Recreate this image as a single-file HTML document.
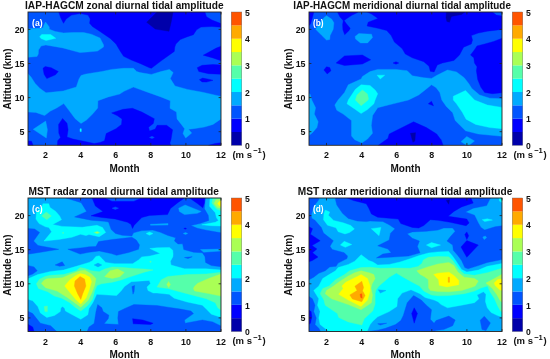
<!DOCTYPE html>
<html><head><meta charset="utf-8"><title>Diurnal tidal amplitude</title>
<style>html,body{margin:0;padding:0;background:#fff}svg{display:block}text{font-family:"Liberation Sans",Arial,sans-serif;font-weight:bold;fill:#111}</style></head><body>
<svg width="550" height="359" viewBox="0 0 550 359">
<rect width="550" height="359" fill="#fff"/>
<defs>
<clipPath id="cpa"><rect x="28" y="12" width="193" height="133.3"/></clipPath>
<clipPath id="cpb"><rect x="309" y="12" width="193" height="133.3"/></clipPath>
<clipPath id="cpc"><rect x="28" y="198" width="193" height="133.5"/></clipPath>
<clipPath id="cpd"><rect x="309" y="198" width="193" height="133.5"/></clipPath>
</defs>
<g clip-path="url(#cpa)">
<rect x="28" y="12" width="193" height="133.3" fill="#0055ff"/>
<polygon points="58.0,10.0 60.7,17.8 63.5,23.3 66.2,18.9 71.6,15.1 80.4,13.5 88.0,15.1 90.2,18.9 89.6,23.3 92.4,26.5 100.0,31.5 110.2,38.4 116.0,44.0 120.4,51.4 123.6,56.3 131.3,60.1 140.0,63.4 149.5,67.8 151.4,68.3 160.9,61.1 168.3,55.7 174.3,51.4 174.8,47.0 175.9,44.0 180.3,39.6 186.8,36.9 193.4,34.7 196.6,29.8 201.0,27.1 211.9,26.5 223.0,27.4 223.0,24.4 211.9,20.0 206.5,16.7 204.3,10.0" fill="#0000ff" stroke="#0000ff" stroke-width="0.4"/>
<polygon points="146.7,22.3 158.0,11.0 173.2,11.0 171.3,21.4 169.0,31.3 155.2,29.0" fill="#0000aa" stroke="#0000aa" stroke-width="0.4"/>
<polygon points="26.0,28.9 43.0,28.0 43.5,26.0 45.5,22.0 49.3,27.1 49.3,29.3 55.3,31.5 63.5,32.9 72.7,32.5 83.6,32.5 91.3,34.2 100.0,38.0 103.6,45.0 103.5,47.0 97.5,51.1 87.5,52.0 79.9,52.6 62.9,47.9 45.8,45.0 41.1,46.0 38.5,50.0 38.3,54.0 37.0,56.5 26.0,57.4" fill="#00aaff" stroke="#00aaff" stroke-width="0.4"/>
<polygon points="26.0,71.5 31.0,77.0 35.2,83.5 40.0,88.5 46.0,92.8 63.2,91.0 76.3,87.0 79.0,79.0 81.0,75.5 85.0,74.2 90.9,73.2 101.8,71.5 111.6,69.4 123.6,68.3 133.5,68.3 136.7,71.5 140.0,72.6 151.4,74.4 160.9,71.6 169.4,69.4 173.2,72.6 170.3,78.6 175.0,86.0 187.4,89.4 202.5,92.2 223.0,96.9 223.0,117.5 213.0,124.4 204.3,127.1 193.4,128.7 188.5,129.3 191.7,133.1 185.7,138.0 183.0,133.6 184.6,128.7 181.4,124.4 177.0,118.9 176.5,112.0 170.0,108.3 170.3,100.7 160.9,96.9 147.6,92.2 133.4,87.1 124.0,91.3 119.7,94.1 108.3,96.9 97.9,100.7 97.7,108.0 93.1,113.5 86.5,120.0 81.0,123.4 75.2,118.7 69.5,111.1 63.8,103.6 56.6,108.0 50.1,111.3 44.6,115.6 35.9,112.4 26.0,111.8" fill="#00aaff" stroke="#00aaff" stroke-width="0.4"/>
<polygon points="39.7,36.8 41.7,34.5 50.6,34.5 55.8,38.3 46.0,40.5 41.0,38.5" fill="#00ffff" stroke="#00ffff" stroke-width="0.4"/>
<polygon points="43.0,68.3 45.2,66.6 51.2,67.7 58.3,71.5 55.5,74.8 46.8,78.6 44.1,74.3" fill="#0000ff" stroke="#0000ff" stroke-width="0.4"/>
<polygon points="33.2,129.3 45.7,121.1 47.4,129.8 46.3,138.0" fill="#00aaff" stroke="#00aaff" stroke-width="0.4"/>
<polygon points="57.2,147.0 57.7,140.7 60.5,137.5 58.8,133.1 58.6,124.4 62.6,118.4 67.0,123.3 68.1,129.8 67.0,136.9 73.0,139.1 85.0,141.5 94.2,143.5 100.0,142.5 104.5,140.7 106.2,133.6 116.0,128.7 121.5,124.4 122.0,118.9 117.1,115.6 111.6,112.9 123.0,109.3 132.5,108.3 141.9,112.1 154.3,118.7 153.3,123.5 148.6,127.2 149.5,131.0 155.2,129.1 157.1,125.3 166.6,125.3 172.6,129.8 171.0,139.6 169.9,142.9 171.5,147.0" fill="#0000ff" stroke="#0000ff" stroke-width="0.4"/>
<polygon points="149.5,137.5 152.0,136.3 154.3,137.5 152.0,138.6" fill="#0055ff" stroke="#0055ff" stroke-width="0.4"/>
<polygon points="26.0,140.7 31.5,141.3 33.7,147.0 26.0,147.0" fill="#0000ff" stroke="#0000ff" stroke-width="0.4"/>
<polygon points="80.0,128.8 81.3,128.8 81.3,131.6 80.0,131.6" fill="#00ffff" stroke="#00ffff" stroke-width="0.4"/>
<polygon points="203.2,55.2 216.3,48.1 223.0,45.5 223.0,61.5 213.0,57.9" fill="#0000ff" stroke="#0000ff" stroke-width="0.4"/>
<polygon points="197.2,67.7 202.1,65.3 213.0,64.5 223.0,65.0 223.0,74.3 208.6,73.7 198.8,71.5" fill="#0000ff" stroke="#0000ff" stroke-width="0.4"/>
<polygon points="199.4,79.7 202.6,78.1 208.6,79.2 213.0,80.3 206.5,82.1 202.1,81.9" fill="#0000ff" stroke="#0000ff" stroke-width="0.4"/>
<polygon points="208.6,147.0 208.6,145.3 215.2,143.5 223.0,142.4 223.0,147.0" fill="#0000ff" stroke="#0000ff" stroke-width="0.4"/>
</g>
<rect x="28" y="12" width="193" height="133.3" fill="none" stroke="#222" stroke-width="0.9"/>
<text x="45.5" y="158.4" font-size="8.9" text-anchor="middle">2</text>
<text x="80.6" y="158.4" font-size="8.9" text-anchor="middle">4</text>
<text x="115.7" y="158.4" font-size="8.9" text-anchor="middle">6</text>
<text x="150.8" y="158.4" font-size="8.9" text-anchor="middle">8</text>
<text x="185.9" y="158.4" font-size="8.9" text-anchor="middle">10</text>
<text x="221.0" y="158.4" font-size="8.9" text-anchor="middle">12</text>
<text x="24.5" y="134.8" font-size="8.9" text-anchor="end">5</text>
<text x="24.5" y="100.7" font-size="8.9" text-anchor="end">10</text>
<text x="24.5" y="66.6" font-size="8.9" text-anchor="end">15</text>
<text x="24.5" y="32.5" font-size="8.9" text-anchor="end">20</text>
<path d="M45.5,145.3v-2.4 M45.5,12.0v2.4 M80.6,145.3v-2.4 M80.6,12.0v2.4 M115.7,145.3v-2.4 M115.7,12.0v2.4 M150.8,145.3v-2.4 M150.8,12.0v2.4 M185.9,145.3v-2.4 M185.9,12.0v2.4 M221.0,145.3v-2.4 M221.0,12.0v2.4 M28.0,131.7h2.4 M221.0,131.7h-2.4 M28.0,97.6h2.4 M221.0,97.6h-2.4 M28.0,63.5h2.4 M221.0,63.5h-2.4 M28.0,29.4h2.4 M221.0,29.4h-2.4" stroke="#222" stroke-width="0.8" fill="none"/>
<text x="25.0" y="9.2" font-size="10" textLength="198.6" lengthAdjust="spacingAndGlyphs">IAP-HAGCM zonal diurnal tidal amplitude</text>
<text x="124.5" y="171.6" font-size="10" text-anchor="middle">Month</text>
<text transform="translate(11.0,79.0) rotate(-90)" font-size="10" text-anchor="middle">Altitude (km)</text>
<text x="32.0" y="25.6" font-size="8.6" textLength="10.6" lengthAdjust="spacingAndGlyphs" style="fill:#fff">(a)</text>
<rect x="231.2" y="131.97" width="10.6" height="13.38" fill="#0000aa"/>
<rect x="231.2" y="118.64" width="10.6" height="13.38" fill="#0000ff"/>
<rect x="231.2" y="105.31" width="10.6" height="13.38" fill="#0055ff"/>
<rect x="231.2" y="91.98" width="10.6" height="13.38" fill="#00aaff"/>
<rect x="231.2" y="78.65" width="10.6" height="13.38" fill="#00ffff"/>
<rect x="231.2" y="65.32" width="10.6" height="13.38" fill="#55ffaa"/>
<rect x="231.2" y="51.99" width="10.6" height="13.38" fill="#aaff55"/>
<rect x="231.2" y="38.66" width="10.6" height="13.38" fill="#ffff00"/>
<rect x="231.2" y="25.33" width="10.6" height="13.38" fill="#ffaa00"/>
<rect x="231.2" y="12.00" width="10.6" height="13.38" fill="#ff5500"/>
<rect x="231.2" y="12.0" width="10.6" height="133.3" fill="none" stroke="#666" stroke-width="0.4"/>
<text x="245.1" y="149.0" font-size="8.6">0</text>
<text x="245.1" y="122.3" font-size="8.6">1</text>
<text x="245.1" y="95.7" font-size="8.6">2</text>
<text x="245.1" y="69.0" font-size="8.6">3</text>
<text x="245.1" y="42.4" font-size="8.6">4</text>
<text x="245.1" y="15.7" font-size="8.6">5</text>
<text x="232.4" y="157.8" font-size="9.5">(m s<tspan dx="1.2" dy="-4.4" font-size="7.6">−1</tspan><tspan dx="0.8" dy="4.4">)</tspan></text>
<g clip-path="url(#cpb)">
<rect x="309" y="12" width="193" height="133.3" fill="#0055ff"/>
<polygon points="307.0,10.0 314.3,10.0 312.4,17.7 310.5,24.1 307.0,27.3" fill="#0000ff" stroke="#0000ff" stroke-width="0.4"/>
<polygon points="336.5,10.0 339.8,16.7 343.6,21.0 346.9,18.5 351.8,15.3 357.5,12.6 359.0,10.0" fill="#0000ff" stroke="#0000ff" stroke-width="0.4"/>
<polygon points="343.3,20.6 344.5,21.0 346.4,23.8 350.2,28.2 349.1,30.4 344.7,34.7 342.9,29.8 342.6,24.4" fill="#0000ff" stroke="#0000ff" stroke-width="0.4"/>
<polygon points="362.7,10.0 371.5,14.0 378.0,18.4 368.2,22.2 367.1,26.0 378.0,28.3 386.7,30.5 391.2,35.6 394.4,42.1 402.1,48.5 405.3,54.0 412.3,57.8 423.8,61.7 429.0,66.2 430.3,71.3 434.1,71.9 437.3,64.9 442.4,63.0 453.9,60.4 459.5,55.0 463.6,47.2 471.3,44.0 472.5,40.1 471.3,35.6 478.3,33.1 487.3,31.2 504.0,29.2 504.0,16.4 496.3,15.1 489.8,10.0" fill="#0000ff" stroke="#0000ff" stroke-width="0.4"/>
<polygon points="504.0,37.6 493.7,41.4 484.7,44.0 477.0,45.9 474.5,49.7 470.5,55.0 473.8,57.8 474.5,63.0 477.0,66.8 476.4,70.7 477.7,79.6 480.9,87.3 484.7,92.5 492.4,93.7 504.0,92.5" fill="#0000ff" stroke="#0000ff" stroke-width="0.4"/>
<polygon points="446.3,13.2 446.3,11.0 466.1,11.0 461.6,14.5 451.4,16.4 449.5,22.2 446.9,21.5 446.0,17.7" fill="#0000aa" stroke="#0000aa" stroke-width="0.4"/>
<polygon points="336.1,63.0 344.5,55.9 362.4,55.0 370.7,59.8 362.4,64.0 344.5,65.5" fill="#0000ff" stroke="#0000ff" stroke-width="0.4"/>
<polygon points="323.9,70.0 326.5,66.8 329.7,67.5 331.0,70.7 327.2,73.9" fill="#0000ff" stroke="#0000ff" stroke-width="0.4"/>
<polygon points="393.0,63.0 396.0,61.7 398.8,63.0 396.0,64.2" fill="#0000ff" stroke="#0000ff" stroke-width="0.4"/>
<polygon points="378.3,147.0 378.3,145.3 387.9,138.5 389.2,134.0 413.6,121.8 426.4,127.6 436.7,134.0 440.0,138.5 441.1,139.7 443.7,147.0" fill="#0000ff" stroke="#0000ff" stroke-width="0.4"/>
<polygon points="410.4,133.3 415.5,132.7 414.9,141.0 412.9,142.3" fill="#0000aa" stroke="#0000aa" stroke-width="0.4"/>
<polygon points="428.3,103.8 431.5,101.3 433.5,105.8" fill="#0000ff" stroke="#0000ff" stroke-width="0.4"/>
<polygon points="326.5,15.8 331.6,19.0 333.9,22.8 333.2,29.2 330.1,35.6 329.7,39.5 326.5,40.1 321.4,35.0 315.6,29.2 318.8,24.1 323.9,17.7" fill="#00aaff" stroke="#00aaff" stroke-width="0.4"/>
<polygon points="355.1,36.4 358.9,33.6 371.5,34.2 372.5,37.5 367.6,42.9 360.5,42.9 355.6,39.1" fill="#00aaff" stroke="#00aaff" stroke-width="0.4"/>
<polygon points="307.0,93.0 310.0,94.0 311.8,100.0 315.6,107.7 314.3,114.1 318.2,121.8 316.9,127.6 312.4,132.7 307.0,137.2" fill="#00aaff" stroke="#00aaff" stroke-width="0.4"/>
<polygon points="338.1,100.0 344.5,92.5 348.3,84.8 361.1,79.0 362.4,76.4 370.1,71.6 377.7,69.4 395.6,69.4 407.2,70.7 412.3,75.8 423.8,77.7 431.5,78.4 437.0,75.2 447.5,70.0 456.5,71.9 464.2,77.7 468.7,83.5 471.9,88.6 479.6,95.0 489.8,98.2 504.0,98.9 504.0,136.5 478.3,134.0 465.5,130.8 455.2,120.5 452.7,112.8 446.3,106.4 441.8,100.0 439.8,92.5 436.0,87.5 431.5,84.8 425.1,89.9 418.7,95.0 408.5,100.0 393.1,103.8 377.7,107.7 372.6,115.4 371.3,125.6 372.5,133.3 367.5,139.1 361.8,142.9 354.7,139.7 351.5,135.9 351.5,120.5 343.2,114.1 336.8,110.3 334.8,105.1" fill="#00aaff" stroke="#00aaff" stroke-width="0.4"/>
<polygon points="461.0,141.7 466.8,136.5 474.5,141.0 468.1,146.0" fill="#00aaff" stroke="#00aaff" stroke-width="0.4"/>
<polygon points="361.1,84.8 370.0,85.5 375.1,89.9 377.7,93.7 375.1,100.0 373.9,103.8 367.5,109.6 361.1,113.5 354.7,109.0 347.0,103.8 348.3,100.0 355.4,89.3" fill="#00ffff" stroke="#00ffff" stroke-width="0.4"/>
<polygon points="362.4,89.9 367.5,94.0 368.5,99.0 367.5,100.5 361.1,105.8 355.4,100.0 357.0,95.0" fill="#55ffaa" stroke="#55ffaa" stroke-width="0.4"/>
<polygon points="377.1,75.2 384.7,75.2 380.3,79.0" fill="#00ffff" stroke="#00ffff" stroke-width="0.4"/>
<polygon points="453.3,96.3 465.5,90.5 474.5,100.0 487.3,105.1 504.0,107.7 504.0,128.8 489.8,127.6 475.7,124.4 466.1,119.2 462.3,112.2 456.5,103.8 453.3,100.0" fill="#00ffff" stroke="#00ffff" stroke-width="0.4"/>
</g>
<rect x="309" y="12" width="193" height="133.3" fill="none" stroke="#222" stroke-width="0.9"/>
<text x="326.5" y="158.4" font-size="8.9" text-anchor="middle">2</text>
<text x="361.6" y="158.4" font-size="8.9" text-anchor="middle">4</text>
<text x="396.7" y="158.4" font-size="8.9" text-anchor="middle">6</text>
<text x="431.8" y="158.4" font-size="8.9" text-anchor="middle">8</text>
<text x="466.9" y="158.4" font-size="8.9" text-anchor="middle">10</text>
<text x="502.0" y="158.4" font-size="8.9" text-anchor="middle">12</text>
<text x="305.5" y="134.8" font-size="8.9" text-anchor="end">5</text>
<text x="305.5" y="100.7" font-size="8.9" text-anchor="end">10</text>
<text x="305.5" y="66.6" font-size="8.9" text-anchor="end">15</text>
<text x="305.5" y="32.5" font-size="8.9" text-anchor="end">20</text>
<path d="M326.5,145.3v-2.4 M326.5,12.0v2.4 M361.6,145.3v-2.4 M361.6,12.0v2.4 M396.7,145.3v-2.4 M396.7,12.0v2.4 M431.8,145.3v-2.4 M431.8,12.0v2.4 M466.9,145.3v-2.4 M466.9,12.0v2.4 M502.0,145.3v-2.4 M502.0,12.0v2.4 M309.0,131.7h2.4 M502.0,131.7h-2.4 M309.0,97.6h2.4 M502.0,97.6h-2.4 M309.0,63.5h2.4 M502.0,63.5h-2.4 M309.0,29.4h2.4 M502.0,29.4h-2.4" stroke="#222" stroke-width="0.8" fill="none"/>
<text x="293.2" y="9.2" font-size="10" textLength="217.7" lengthAdjust="spacingAndGlyphs">IAP-HAGCM meridional diurnal tidal amplitude</text>
<text x="405.5" y="171.6" font-size="10" text-anchor="middle">Month</text>
<text transform="translate(292.0,79.0) rotate(-90)" font-size="10" text-anchor="middle">Altitude (km)</text>
<text x="313.0" y="25.6" font-size="8.6" textLength="10.6" lengthAdjust="spacingAndGlyphs" style="fill:#fff">(b)</text>
<rect x="512.2" y="131.97" width="10.6" height="13.38" fill="#0000aa"/>
<rect x="512.2" y="118.64" width="10.6" height="13.38" fill="#0000ff"/>
<rect x="512.2" y="105.31" width="10.6" height="13.38" fill="#0055ff"/>
<rect x="512.2" y="91.98" width="10.6" height="13.38" fill="#00aaff"/>
<rect x="512.2" y="78.65" width="10.6" height="13.38" fill="#00ffff"/>
<rect x="512.2" y="65.32" width="10.6" height="13.38" fill="#55ffaa"/>
<rect x="512.2" y="51.99" width="10.6" height="13.38" fill="#aaff55"/>
<rect x="512.2" y="38.66" width="10.6" height="13.38" fill="#ffff00"/>
<rect x="512.2" y="25.33" width="10.6" height="13.38" fill="#ffaa00"/>
<rect x="512.2" y="12.00" width="10.6" height="13.38" fill="#ff5500"/>
<rect x="512.2" y="12.0" width="10.6" height="133.3" fill="none" stroke="#666" stroke-width="0.4"/>
<text x="526.1" y="149.0" font-size="8.6">0</text>
<text x="526.1" y="122.3" font-size="8.6">1</text>
<text x="526.1" y="95.7" font-size="8.6">2</text>
<text x="526.1" y="69.0" font-size="8.6">3</text>
<text x="526.1" y="42.4" font-size="8.6">4</text>
<text x="526.1" y="15.7" font-size="8.6">5</text>
<text x="513.4" y="157.8" font-size="9.5">(m s<tspan dx="1.2" dy="-4.4" font-size="7.6">−1</tspan><tspan dx="0.8" dy="4.4">)</tspan></text>
<g clip-path="url(#cpc)">
<rect x="28" y="198" width="193" height="133.5" fill="#00aaff"/>
<polygon points="65.9,196.0 65.9,198.0 81.2,202.7 86.6,211.5 74.6,216.9 91.0,220.2 104.1,221.3 108.5,222.0 111.2,229.6 115.5,233.5 122.1,235.3 131.9,236.0 133.5,232.8 141.8,230.6 152.7,230.1 160.4,232.3 168.0,235.5 175.6,237.7 174.5,241.0 178.0,244.0 182.6,243.8 183.8,249.6 193.5,252.2 202.4,252.8 205.0,256.7 205.6,262.4 211.4,265.6 223.0,266.9 223.0,233.2 206.3,230.2 197.3,228.2 190.9,225.5 199.9,223.6 208.8,220.4 208.2,215.2 204.4,208.8 205.6,196.0" fill="#0055ff" stroke="#0055ff" stroke-width="0.4"/>
<polygon points="67.9,249.2 82.7,247.7 89.0,246.8 95.9,246.5 98.6,241.6 112.3,239.5 131.9,237.3 136.3,240.0 139.5,244.9 138.5,249.3 128.6,252.5 116.6,255.3 111.2,253.6 99.2,250.9 89.0,252.3 80.1,254.1" fill="#0055ff" stroke="#0055ff" stroke-width="0.4"/>
<polygon points="26.0,228.5 34.6,229.0 39.6,232.4 33.6,241.1 38.0,245.5 58.7,249.3 39.1,252.5 26.0,254.5" fill="#0055ff" stroke="#0055ff" stroke-width="0.4"/>
<polygon points="55.1,265.0 62.2,261.8 64.7,265.6 59.6,266.3" fill="#0055ff" stroke="#0055ff" stroke-width="0.4"/>
<polygon points="26.0,265.0 34.0,266.9 37.2,270.8 32.7,274.0 26.0,276.5" fill="#0055ff" stroke="#0055ff" stroke-width="0.4"/>
<polygon points="26.0,310.4 32.7,313.6 37.2,319.3 40.4,323.2 50.6,325.7 58.3,333.0 26.0,333.0" fill="#0055ff" stroke="#0055ff" stroke-width="0.4"/>
<polygon points="86.5,333.0 89.0,327.0 94.1,323.5 94.8,319.3 96.0,311.6 97.7,304.6 101.8,307.8 103.1,311.6 108.9,315.2 108.2,318.7 104.1,323.8 118.5,324.5 117.8,318.0 118.5,311.6 124.9,308.4 133.9,304.6 157.0,305.5 167.8,307.2 180.6,309.1 190.9,311.0 193.5,313.6 184.5,320.0 185.1,323.2 202.4,320.0 212.7,321.9 223.0,327.0 223.0,333.0" fill="#0055ff" stroke="#0055ff" stroke-width="0.4"/>
<polygon points="131.9,286.5 134.6,285.5 134.1,291.5 133.0,294.2" fill="#0055ff" stroke="#0055ff" stroke-width="0.4"/>
<polygon points="184.5,257.5 192.2,256.7 188.0,258.6" fill="#0055ff" stroke="#0055ff" stroke-width="0.4"/>
<polygon points="92.1,196.0 92.1,198.0 95.4,206.0 103.0,211.5 91.0,215.8 101.9,217.5 115.0,218.9 127.5,222.3 130.9,224.3 132.5,228.5 134.2,225.2 141.8,217.5 149.5,215.4 167.5,214.6 170.5,208.5 178.1,202.4 183.8,198.6 184.5,196.0" fill="#0000ff" stroke="#0000ff" stroke-width="0.4"/>
<polygon points="189.5,196.0 189.5,198.0 197.4,203.5 202.8,207.8 204.4,203.0 204.8,196.0" fill="#0000ff" stroke="#0000ff" stroke-width="0.4"/>
<polygon points="105.7,196.0 140.3,196.0 140.3,198.0 133.9,201.1 112.1,201.1 105.7,198.0" fill="#0055ff" stroke="#0055ff" stroke-width="0.4"/>
<polygon points="112.1,208.2 115.3,206.9 118.5,208.2 115.3,209.5" fill="#0055ff" stroke="#0055ff" stroke-width="0.4"/>
<polygon points="132.6,318.7 142.8,320.0 153.1,323.2 150.5,324.5 133.2,323.8" fill="#0000ff" stroke="#0000ff" stroke-width="0.4"/>
<polygon points="26.0,323.2 32.7,327.0 34.6,333.0 26.0,333.0" fill="#0000ff" stroke="#0000ff" stroke-width="0.4"/>
<polygon points="183.8,228.5 185.2,228.0 186.5,228.6 185.2,229.2" fill="#0000ff" stroke="#0000ff" stroke-width="0.4"/>
<polygon points="178.7,208.2 185.1,205.0 201.2,211.4 197.3,213.3 184.5,214.6 179.4,211.4" fill="#00aaff" stroke="#00aaff" stroke-width="0.4"/>
<polygon points="150.5,224.3 168.0,223.5 168.0,225.0 150.5,225.2" fill="#00aaff" stroke="#00aaff" stroke-width="0.4"/>
<polygon points="183.2,233.5 185.5,232.5 187.7,233.5 185.5,234.5" fill="#00aaff" stroke="#00aaff" stroke-width="0.4"/>
<polygon points="200.5,249.6 223.0,249.0 223.0,250.9 203.7,252.2" fill="#00aaff" stroke="#00aaff" stroke-width="0.4"/>
<polygon points="42.9,203.7 48.7,203.7 50.0,207.5 55.8,211.4 59.6,215.9 61.5,219.7 52.6,224.5 62.0,226.4 75.1,226.9 82.3,227.3 97.0,225.3 102.5,227.5 105.7,232.4 99.2,236.7 89.0,234.5 86.0,235.6 80.5,234.2 71.8,237.3 58.7,239.5 44.0,241.1 51.6,231.8 48.9,227.5 45.5,226.8 39.1,223.6 35.9,219.1 36.5,211.4 41.7,207.5" fill="#00ffff" stroke="#00ffff" stroke-width="0.4"/>
<polygon points="26.0,279.7 37.8,274.6 50.6,271.4 63.5,270.1 76.3,266.3 89.1,262.4 92.6,260.5 95.9,256.4 99.2,255.8 102.0,258.6 105.7,262.4 114.6,263.7 132.6,263.7 138.5,260.0 141.7,256.9 150.0,256.0 160.2,253.5 149.8,248.5 157.0,247.8 169.5,247.4 172.7,250.2 173.1,254.0 172.9,256.7 170.4,261.2 171.0,265.0 184.5,268.8 206.3,268.8 223.0,270.1 223.0,318.0 211.4,314.2 206.3,309.1 202.4,305.2 187.1,302.0 174.2,298.2 169.1,294.3 157.0,293.0 153.1,293.0 148.0,290.5 147.0,287.0 150.5,283.6 149.3,280.4 131.3,281.7 124.5,286.5 121.0,291.1 116.6,295.6 96.7,294.3 92.8,302.7 89.0,308.4 87.8,314.8 80.8,319.3 73.7,315.5 65.4,311.0 64.7,308.4 62.8,306.5 60.9,307.8 60.3,311.6 54.5,315.5 46.8,317.4 40.4,312.9 37.8,306.5 32.7,300.7 26.0,298.8" fill="#00ffff" stroke="#00ffff" stroke-width="0.4"/>
<polygon points="94.1,265.0 98.0,263.1 101.8,265.0 98.0,266.9" fill="#00aaff" stroke="#00aaff" stroke-width="0.4"/>
<polygon points="210.1,196.0 209.5,206.3 215.3,212.7 216.5,217.8 218.5,220.5 215.3,222.3 201.8,224.8 211.4,225.7 223.0,226.1 223.0,196.0" fill="#00ffff" stroke="#00ffff" stroke-width="0.4"/>
<polygon points="146.1,233.5 149.5,232.0 153.0,233.5 149.5,235.2" fill="#00ffff" stroke="#00ffff" stroke-width="0.4"/>
<polygon points="41.7,215.9 46.2,212.0 51.3,215.9 46.8,219.7" fill="#55ffaa" stroke="#55ffaa" stroke-width="0.4"/>
<polygon points="93.7,232.4 97.5,231.3 100.3,232.7 97.0,233.8" fill="#55ffaa" stroke="#55ffaa" stroke-width="0.4"/>
<polygon points="95.5,232.5 97.3,232.0 98.6,232.7 97.0,233.2" fill="#aaff55" stroke="#aaff55" stroke-width="0.4"/>
<polygon points="62.3,232.9 63.1,232.2 63.9,232.9 63.1,233.6" fill="#55ffaa" stroke="#55ffaa" stroke-width="0.4"/>
<polygon points="36.4,283.8 39.5,279.2 45.6,276.3 50.6,275.3 63.5,274.6 76.3,270.8 80.1,267.6 85.0,268.5 91.5,270.7 99.2,271.8 104.6,269.1 112.3,266.9 123.2,267.5 134.1,268.5 145.0,269.1 153.1,269.9 145.0,272.0 140.3,273.5 128.6,277.3 121.0,280.0 112.3,282.2 101.4,283.8 97.0,285.5 94.8,290.4 92.6,299.0 89.0,303.9 86.5,306.5 80.8,311.0 75.1,307.3 69.6,302.6 62.0,298.3 54.4,296.0 47.8,291.8 38.5,288.5" fill="#55ffaa" stroke="#55ffaa" stroke-width="0.4"/>
<polygon points="157.0,287.0 158.8,284.0 161.4,279.7 167.8,276.5 187.1,274.6 206.3,274.0 223.0,272.0 223.0,311.6 217.8,307.8 215.3,302.7 206.3,298.8 187.1,293.7 167.8,288.6" fill="#55ffaa" stroke="#55ffaa" stroke-width="0.4"/>
<polygon points="211.8,203.0 213.0,198.3 223.0,197.6 223.0,211.4 216.5,209.0" fill="#55ffaa" stroke="#55ffaa" stroke-width="0.4"/>
<polygon points="44.2,306.5 47.4,305.9 47.4,311.6 44.9,311.6" fill="#55ffaa" stroke="#55ffaa" stroke-width="0.4"/>
<polygon points="149.6,261.8 150.5,261.0 151.4,261.8 150.5,262.6" fill="#55ffaa" stroke="#55ffaa" stroke-width="0.4"/>
<polygon points="166.8,284.5 168.6,281.5 170.4,284.5 168.6,287.5" fill="#aaff55" stroke="#aaff55" stroke-width="0.4"/>
<polygon points="41.3,283.4 44.0,280.3 46.8,278.8 62.2,277.8 69.9,274.6 80.1,270.8 85.0,270.2 91.5,274.0 95.9,278.4 94.8,284.9 91.5,293.6 88.3,300.0 86.5,302.0 80.8,307.2 76.3,303.9 67.3,297.5 57.1,291.1 45.6,287.7" fill="#aaff55" stroke="#aaff55" stroke-width="0.4"/>
<polygon points="104.6,276.7 110.1,270.7 117.7,269.1 124.3,272.4 119.9,276.7 112.3,278.4" fill="#aaff55" stroke="#aaff55" stroke-width="0.4"/>
<polygon points="193.4,288.5 194.3,286.5 197.7,283.3 208.6,278.4 219.5,274.5 223.0,273.8 223.0,296.5 208.6,293.6 194.5,290.9" fill="#aaff55" stroke="#aaff55" stroke-width="0.4"/>
<polygon points="214.0,203.5 216.0,199.8 223.0,199.2 223.0,208.5 217.5,207.5" fill="#aaff55" stroke="#aaff55" stroke-width="0.4"/>
<polygon points="64.7,286.0 69.9,279.7 76.3,275.3 80.1,273.6 85.0,274.5 89.9,277.3 91.5,281.6 89.4,289.3 86.1,298.0 85.3,298.8 80.8,303.9 76.3,300.1 69.9,292.4" fill="#ffff00" stroke="#ffff00" stroke-width="0.4"/>
<polygon points="217.6,203.6 219.5,201.3 223.0,200.8 223.0,206.4 219.5,206.0" fill="#ffff00" stroke="#ffff00" stroke-width="0.4"/>
<polygon points="74.4,286.0 75.0,281.0 80.1,276.5 84.6,279.1 85.9,286.0 82.7,293.7 80.8,299.5 77.6,293.7" fill="#ffaa00" stroke="#ffaa00" stroke-width="0.4"/>
</g>
<rect x="28" y="198" width="193" height="133.5" fill="none" stroke="#222" stroke-width="0.9"/>
<text x="45.5" y="344.6" font-size="8.9" text-anchor="middle">2</text>
<text x="80.6" y="344.6" font-size="8.9" text-anchor="middle">4</text>
<text x="115.7" y="344.6" font-size="8.9" text-anchor="middle">6</text>
<text x="150.8" y="344.6" font-size="8.9" text-anchor="middle">8</text>
<text x="185.9" y="344.6" font-size="8.9" text-anchor="middle">10</text>
<text x="221.0" y="344.6" font-size="8.9" text-anchor="middle">12</text>
<text x="24.5" y="321.0" font-size="8.9" text-anchor="end">5</text>
<text x="24.5" y="286.9" font-size="8.9" text-anchor="end">10</text>
<text x="24.5" y="252.8" font-size="8.9" text-anchor="end">15</text>
<text x="24.5" y="218.7" font-size="8.9" text-anchor="end">20</text>
<path d="M45.5,331.5v-2.4 M45.5,198.0v2.4 M80.6,331.5v-2.4 M80.6,198.0v2.4 M115.7,331.5v-2.4 M115.7,198.0v2.4 M150.8,331.5v-2.4 M150.8,198.0v2.4 M185.9,331.5v-2.4 M185.9,198.0v2.4 M221.0,331.5v-2.4 M221.0,198.0v2.4 M28.0,317.9h2.4 M221.0,317.9h-2.4 M28.0,283.8h2.4 M221.0,283.8h-2.4 M28.0,249.7h2.4 M221.0,249.7h-2.4 M28.0,215.6h2.4 M221.0,215.6h-2.4" stroke="#222" stroke-width="0.8" fill="none"/>
<text x="28.6" y="195.2" font-size="10" textLength="190.4" lengthAdjust="spacingAndGlyphs">MST radar zonal diurnal tidal amplitude</text>
<text x="124.5" y="357.8" font-size="10" text-anchor="middle">Month</text>
<text transform="translate(11.0,265.1) rotate(-90)" font-size="10" text-anchor="middle">Altitude (km)</text>
<text x="32.0" y="211.6" font-size="8.6" textLength="10.6" lengthAdjust="spacingAndGlyphs" style="fill:#fff">(c)</text>
<rect x="231.2" y="318.15" width="10.6" height="13.40" fill="#0000aa"/>
<rect x="231.2" y="304.80" width="10.6" height="13.40" fill="#0000ff"/>
<rect x="231.2" y="291.45" width="10.6" height="13.40" fill="#0055ff"/>
<rect x="231.2" y="278.10" width="10.6" height="13.40" fill="#00aaff"/>
<rect x="231.2" y="264.75" width="10.6" height="13.40" fill="#00ffff"/>
<rect x="231.2" y="251.40" width="10.6" height="13.40" fill="#55ffaa"/>
<rect x="231.2" y="238.05" width="10.6" height="13.40" fill="#aaff55"/>
<rect x="231.2" y="224.70" width="10.6" height="13.40" fill="#ffff00"/>
<rect x="231.2" y="211.35" width="10.6" height="13.40" fill="#ffaa00"/>
<rect x="231.2" y="198.00" width="10.6" height="13.40" fill="#ff5500"/>
<rect x="231.2" y="198.0" width="10.6" height="133.5" fill="none" stroke="#666" stroke-width="0.4"/>
<text x="245.1" y="335.2" font-size="8.6">0</text>
<text x="245.1" y="308.5" font-size="8.6">1</text>
<text x="245.1" y="281.8" font-size="8.6">2</text>
<text x="245.1" y="255.1" font-size="8.6">3</text>
<text x="245.1" y="228.4" font-size="8.6">4</text>
<text x="245.1" y="201.7" font-size="8.6">5</text>
<text x="232.4" y="344.0" font-size="9.5">(m s<tspan dx="1.2" dy="-4.4" font-size="7.6">−1</tspan><tspan dx="0.8" dy="4.4">)</tspan></text>
<g clip-path="url(#cpd)">
<rect x="309" y="198" width="193" height="133.5" fill="#00aaff"/>
<polygon points="307.0,196.0 318.8,196.0 318.8,199.8 313.7,206.3 311.1,215.2 311.8,218.4 314.7,220.0 321.3,227.6 323.5,233.1 333.3,240.7 330.0,246.2 332.2,249.5 344.2,252.7 347.5,256.0 347.0,258.6 338.1,263.1 336.1,266.3 329.7,266.9 325.2,270.8 318.8,273.3 313.7,277.2 307.0,281.0" fill="#0055ff" stroke="#0055ff" stroke-width="0.4"/>
<polygon points="335.5,196.0 335.5,199.8 336.8,205.0 342.5,213.3 348.3,218.4 357.3,221.0 366.3,221.6 370.0,221.0 382.8,221.6 389.2,224.8 395.0,228.7 390.5,233.2 389.2,240.0 377.7,245.8 387.9,249.0 391.2,252.8 382.8,254.1 376.4,257.9 389.2,257.3 408.5,256.0 420.0,252.8 417.4,246.4 419.4,241.0 412.3,238.3 407.2,233.8 412.3,231.9 426.4,231.3 438.0,230.0 443.7,228.0 452.7,228.0 455.2,231.3 450.1,237.0 447.0,241.0 452.7,245.1 453.3,250.3 457.8,255.4 461.6,260.5 464.8,267.6 468.1,268.8 478.3,265.6 487.3,262.4 504.0,259.2 504.0,225.5 495.0,226.8 484.7,230.0 480.9,227.4 478.3,222.9 474.5,215.2 465.5,212.0 473.2,208.2 486.6,205.6 489.8,199.2 492.4,196.0" fill="#0055ff" stroke="#0055ff" stroke-width="0.4"/>
<polygon points="307.0,295.0 312.4,298.8 315.0,305.2 313.7,311.6 316.3,318.0 315.0,324.5 318.8,328.3 321.4,333.0 307.0,333.0" fill="#0055ff" stroke="#0055ff" stroke-width="0.4"/>
<polygon points="370.0,333.0 370.0,331.3 377.7,330.2 385.4,328.3 395.6,324.5 400.8,320.6 403.3,315.5 407.2,302.7 413.6,295.6 421.3,300.1 426.4,305.2 431.5,309.7 430.3,319.3 434.1,323.2 436.0,320.6 448.8,316.1 455.2,320.0 452.7,325.7 443.7,329.6 436.0,330.5 432.0,333.0" fill="#0055ff" stroke="#0055ff" stroke-width="0.4"/>
<polygon points="377.7,323.8 386.7,323.2 380.3,325.1" fill="#0055ff" stroke="#0055ff" stroke-width="0.4"/>
<polygon points="480.2,320.3 484.3,316.3 490.4,323.0 486.0,330.5 482.0,329.5" fill="#0055ff" stroke="#0055ff" stroke-width="0.4"/>
<polygon points="347.0,196.0 347.0,198.0 353.4,200.5 366.3,203.7 368.8,208.2 371.4,213.9 377.7,217.2 398.2,219.1 400.8,223.6 412.3,227.4 418.7,228.0 423.8,225.5 430.3,219.7 438.0,220.3 450.1,222.3 466.1,225.7 469.1,222.9 466.8,219.1 448.2,216.3 453.9,211.4 461.6,206.9 473.2,203.1 470.0,196.0" fill="#0000ff" stroke="#0000ff" stroke-width="0.4"/>
<polygon points="446.3,200.5 449.5,199.8 448.8,204.3" fill="#0000aa" stroke="#0000aa" stroke-width="0.4"/>
<polygon points="307.0,225.5 312.5,228.7 310.4,234.2 320.2,240.7 312.0,245.6 316.9,248.9 312.5,252.7 318.0,257.1 312.4,260.5 307.0,262.4" fill="#0000ff" stroke="#0000ff" stroke-width="0.4"/>
<polygon points="464.8,234.5 466.8,231.9 468.7,235.7 466.8,239.6" fill="#0000ff" stroke="#0000ff" stroke-width="0.4"/>
<polygon points="466.8,240.6 478.3,245.1 466.8,257.3 461.0,247.0" fill="#0000ff" stroke="#0000ff" stroke-width="0.4"/>
<polygon points="411.7,313.6 414.2,307.8 417.4,313.6 414.2,323.2" fill="#0000ff" stroke="#0000ff" stroke-width="0.4"/>
<polygon points="307.0,309.1 311.1,311.6 311.8,316.8 310.5,323.2 307.0,325.7" fill="#0000ff" stroke="#0000ff" stroke-width="0.4"/>
<polygon points="482.8,237.0 485.4,236.0 486.6,237.7 484.1,239.6" fill="#00aaff" stroke="#00aaff" stroke-width="0.4"/>
<polygon points="325.2,210.1 329.7,212.0 328.4,215.2 333.6,220.4 343.2,222.8 350.9,225.5 354.4,229.0 349.6,232.5 345.0,233.9 338.2,231.7 336.0,227.8 327.5,225.2 323.5,219.7 323.9,213.9" fill="#00ffff" stroke="#00ffff" stroke-width="0.4"/>
<polygon points="371.3,228.7 380.9,227.4 379.0,235.7" fill="#00ffff" stroke="#00ffff" stroke-width="0.4"/>
<polygon points="340.4,245.1 344.2,241.3 351.8,244.5 345.3,247.3" fill="#00ffff" stroke="#00ffff" stroke-width="0.4"/>
<polygon points="482.2,219.7 487.3,218.8 492.4,220.1 484.7,221.6" fill="#00ffff" stroke="#00ffff" stroke-width="0.4"/>
<polygon points="498.8,196.0 504.0,196.0 504.0,203.7 499.5,201.1" fill="#00ffff" stroke="#00ffff" stroke-width="0.4"/>
<polygon points="426.4,245.1 431.5,242.6 440.5,245.1 431.5,247.7" fill="#00ffff" stroke="#00ffff" stroke-width="0.4"/>
<polygon points="318.8,286.0 322.7,278.5 329.1,274.6 335.5,270.8 338.1,267.6 348.3,264.4 354.7,261.2 361.1,254.7 368.8,260.5 373.0,262.0 377.7,265.0 389.2,264.4 400.0,262.0 410.0,258.8 419.2,255.6 428.4,252.9 437.6,251.9 448.6,251.5 452.7,256.2 456.5,261.8 461.6,269.5 466.8,272.0 478.3,270.1 487.3,266.3 504.0,263.1 504.0,317.6 497.5,315.6 491.1,312.5 487.3,307.8 485.4,301.4 486.0,294.3 483.4,291.8 477.0,295.0 478.9,298.8 474.5,302.7 461.6,305.2 447.5,307.8 441.1,304.6 438.0,301.7 434.1,300.1 425.1,297.5 420.0,293.7 411.0,289.8 402.1,293.1 397.6,298.8 396.9,306.5 389.2,311.6 377.7,316.8 373.0,321.0 370.1,324.5 366.3,333.0 331.6,333.0 326.5,329.6 320.1,324.5 318.8,318.0 320.1,311.6 317.5,305.2 318.8,298.8 313.7,290.5" fill="#00ffff" stroke="#00ffff" stroke-width="0.4"/>
<polygon points="378.3,289.8 386.0,290.5 380.3,293.1" fill="#00aaff" stroke="#00aaff" stroke-width="0.4"/>
<polygon points="329.1,286.0 335.5,279.7 344.5,274.6 349.6,270.8 361.1,267.6 370.0,267.3 380.9,268.3 395.6,268.0 410.0,268.3 418.0,266.5 421.8,263.5 423.5,259.8 428.4,257.3 437.6,256.5 448.6,256.8 453.0,260.8 459.1,269.5 464.2,274.0 474.5,275.3 487.3,272.7 504.0,267.6 504.0,313.5 500.5,311.0 497.8,306.2 494.5,298.8 490.0,291.8 488.0,287.3 487.3,286.0 480.9,288.0 474.5,291.1 464.2,293.7 448.8,295.6 438.0,295.8 431.5,295.0 423.8,291.1 419.5,286.0 412.3,282.3 403.3,277.2 396.3,273.1 389.2,277.2 379.0,286.0 376.0,290.0 375.1,293.7 375.1,304.0 372.7,311.0 364.3,318.7 361.8,325.1 348.3,321.9 338.7,317.4 337.4,313.6 325.2,305.2 323.9,300.1 320.1,293.7 322.7,288.6" fill="#55ffaa" stroke="#55ffaa" stroke-width="0.4"/>
<polygon points="333.6,286.0 339.3,281.7 348.3,275.9 354.7,272.7 361.1,270.8 370.0,273.0 373.8,274.6 375.1,278.5 372.0,284.0 371.0,288.0 372.5,295.0 371.4,302.7 361.1,309.7 348.3,304.6 331.6,298.8 325.2,293.7 326.5,290.5" fill="#aaff55" stroke="#aaff55" stroke-width="0.4"/>
<polygon points="416.8,270.8 427.7,266.9 438.0,264.0 448.8,262.4 453.9,265.6 457.8,272.0 464.2,277.2 474.5,278.5 478.3,281.0 475.2,286.0 471.9,287.3 461.6,290.5 448.8,291.8 438.0,291.6 430.5,290.5 428.6,288.0 428.3,279.5 424.5,276.8 420.0,274.3" fill="#aaff55" stroke="#aaff55" stroke-width="0.4"/>
<polygon points="485.9,283.1 493.0,279.3 504.0,273.0 504.0,304.0 500.0,300.5 496.7,294.5 492.3,288.5 488.6,285.3" fill="#aaff55" stroke="#aaff55" stroke-width="0.4"/>
<polygon points="341.9,286.0 345.7,282.3 357.3,276.5 361.1,274.6 367.5,278.5 370.1,286.0 370.1,291.1 367.5,300.1 361.1,306.5 348.3,300.1 338.7,294.3 343.2,288.6" fill="#ffff00" stroke="#ffff00" stroke-width="0.4"/>
<polygon points="433.7,274.4 438.0,273.2 449.0,272.2 454.5,276.0 458.8,280.4 458.8,284.7 446.8,286.9 439.2,285.3 438.6,279.8" fill="#ffff00" stroke="#ffff00" stroke-width="0.4"/>
<polygon points="494.2,283.0 497.6,279.6 504.0,278.6 504.0,291.2 499.5,289.8 495.2,285.6" fill="#ffff00" stroke="#ffff00" stroke-width="0.4"/>
<polygon points="354.9,286.2 361.8,281.3 363.6,287.6 362.5,290.9 363.3,292.0 365.1,295.6 361.8,301.8 352.4,298.9 349.8,294.9 357.1,290.6" fill="#ffaa00" stroke="#ffaa00" stroke-width="0.4"/>
<polygon points="448.2,277.2 449.5,277.2 449.5,282.3 448.2,282.3" fill="#ffaa00" stroke="#ffaa00" stroke-width="0.4"/>
<polygon points="360.0,294.2 361.8,293.8 362.2,298.2 360.7,297.5" fill="#ff5500" stroke="#ff5500" stroke-width="0.4"/>
</g>
<rect x="309" y="198" width="193" height="133.5" fill="none" stroke="#222" stroke-width="0.9"/>
<text x="326.5" y="344.6" font-size="8.9" text-anchor="middle">2</text>
<text x="361.6" y="344.6" font-size="8.9" text-anchor="middle">4</text>
<text x="396.7" y="344.6" font-size="8.9" text-anchor="middle">6</text>
<text x="431.8" y="344.6" font-size="8.9" text-anchor="middle">8</text>
<text x="466.9" y="344.6" font-size="8.9" text-anchor="middle">10</text>
<text x="502.0" y="344.6" font-size="8.9" text-anchor="middle">12</text>
<text x="305.5" y="321.0" font-size="8.9" text-anchor="end">5</text>
<text x="305.5" y="286.9" font-size="8.9" text-anchor="end">10</text>
<text x="305.5" y="252.8" font-size="8.9" text-anchor="end">15</text>
<text x="305.5" y="218.7" font-size="8.9" text-anchor="end">20</text>
<path d="M326.5,331.5v-2.4 M326.5,198.0v2.4 M361.6,331.5v-2.4 M361.6,198.0v2.4 M396.7,331.5v-2.4 M396.7,198.0v2.4 M431.8,331.5v-2.4 M431.8,198.0v2.4 M466.9,331.5v-2.4 M466.9,198.0v2.4 M502.0,331.5v-2.4 M502.0,198.0v2.4 M309.0,317.9h2.4 M502.0,317.9h-2.4 M309.0,283.8h2.4 M502.0,283.8h-2.4 M309.0,249.7h2.4 M502.0,249.7h-2.4 M309.0,215.6h2.4 M502.0,215.6h-2.4" stroke="#222" stroke-width="0.8" fill="none"/>
<text x="297.7" y="195.2" font-size="10" textLength="214.6" lengthAdjust="spacingAndGlyphs">MST radar meridional diurnal tidal amplitude</text>
<text x="405.5" y="357.8" font-size="10" text-anchor="middle">Month</text>
<text transform="translate(292.0,265.1) rotate(-90)" font-size="10" text-anchor="middle">Altitude (km)</text>
<text x="313.0" y="211.6" font-size="8.6" textLength="10.6" lengthAdjust="spacingAndGlyphs" style="fill:#fff">(d)</text>
<rect x="512.2" y="318.15" width="10.6" height="13.40" fill="#0000aa"/>
<rect x="512.2" y="304.80" width="10.6" height="13.40" fill="#0000ff"/>
<rect x="512.2" y="291.45" width="10.6" height="13.40" fill="#0055ff"/>
<rect x="512.2" y="278.10" width="10.6" height="13.40" fill="#00aaff"/>
<rect x="512.2" y="264.75" width="10.6" height="13.40" fill="#00ffff"/>
<rect x="512.2" y="251.40" width="10.6" height="13.40" fill="#55ffaa"/>
<rect x="512.2" y="238.05" width="10.6" height="13.40" fill="#aaff55"/>
<rect x="512.2" y="224.70" width="10.6" height="13.40" fill="#ffff00"/>
<rect x="512.2" y="211.35" width="10.6" height="13.40" fill="#ffaa00"/>
<rect x="512.2" y="198.00" width="10.6" height="13.40" fill="#ff5500"/>
<rect x="512.2" y="198.0" width="10.6" height="133.5" fill="none" stroke="#666" stroke-width="0.4"/>
<text x="526.1" y="335.2" font-size="8.6">0</text>
<text x="526.1" y="308.5" font-size="8.6">1</text>
<text x="526.1" y="281.8" font-size="8.6">2</text>
<text x="526.1" y="255.1" font-size="8.6">3</text>
<text x="526.1" y="228.4" font-size="8.6">4</text>
<text x="526.1" y="201.7" font-size="8.6">5</text>
<text x="513.4" y="344.0" font-size="9.5">(m s<tspan dx="1.2" dy="-4.4" font-size="7.6">−1</tspan><tspan dx="0.8" dy="4.4">)</tspan></text>
</svg>
</body></html>
